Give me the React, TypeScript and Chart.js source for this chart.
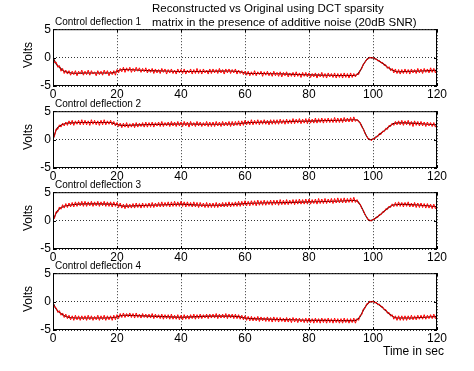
import React, { useEffect, useRef } from "react";
import { Chart, registerables } from "chart.js";
Chart.register(...registerables);

const FONT = '"Liberation Sans Narrow", "Arial Narrow", "Liberation Sans", Arial, sans-serif';

const TITLE_LINES = ["Reconstructed vs Original using DCT sparsity", "matrix in the presence of additive noise (20dB SNR)"];
const PANEL_LABELS = ["Control deflection 1", "Control deflection 2", "Control deflection 3", "Control deflection 4"];
const Y_LABEL = "Volts";
const X_LABEL = "Time in sec";
const X_TICK_STEP = 20;
const X_MIN = 0;
const X_MAX = 120;
const Y_MIN = -5;
const Y_MAX = 5;
const Y_TICK_STEP = 5;

// sampling instants (s) of the noisy (red) records: every 0.5 s
const RED_TIME = Array.from({ length: 241 }, (_, i) => i / 2);

// sampling instants (s) of the original (black) records
const BLACK_TIME = [0, 1, 2, 3, 4, 5, 6, 8, 10, 14, 18, 19, 20, 21, 22, 25, 30, 35, 40, 45, 50, 55, 58, 60, 62, 65, 70, 75, 80, 85, 90, 94, 95, 96, 97, 98, 99, 100, 101, 102, 103, 104, 105, 106, 107, 108, 110, 115, 120];

const BLACK_1 = [0, -1.1, -1.7, -2.2, -2.5, -2.65, -2.75, -2.75, -2.7, -2.7, -2.7, -2.65, -2.45, -2.2, -2.1, -2.15, -2.3, -2.35, -2.45, -2.45, -2.4, -2.35, -2.45, -2.7, -2.8, -2.8, -2.85, -2.95, -3.05, -3.1, -3.15, -3.15, -3.0, -2.3, -1.2, -0.4, 0.0, -0.05, -0.3, -0.65, -1.0, -1.45, -1.85, -2.2, -2.4, -2.5, -2.45, -2.35, -2.25];
const BLACK_2 = [0, 1.7, 2.35, 2.65, 2.85, 2.95, 2.95, 3.0, 3.0, 3.0, 3.0, 2.85, 2.65, 2.55, 2.5, 2.55, 2.65, 2.7, 2.75, 2.72, 2.7, 2.75, 2.8, 2.95, 3.0, 3.05, 3.1, 3.2, 3.25, 3.35, 3.4, 3.5, 3.45, 2.9, 1.8, 0.6, 0.0, 0.1, 0.45, 0.9, 1.35, 1.8, 2.3, 2.7, 2.9, 2.95, 2.95, 2.8, 2.6];
const BLACK_3 = [0, 1.35, 2.05, 2.4, 2.6, 2.7, 2.8, 2.9, 2.95, 2.95, 2.9, 2.85, 2.8, 2.65, 2.55, 2.6, 2.7, 2.8, 2.9, 2.75, 2.7, 2.8, 2.9, 3.0, 3.05, 3.1, 3.15, 3.2, 3.3, 3.35, 3.45, 3.55, 3.45, 2.8, 1.65, 0.6, 0.0, 0.15, 0.5, 0.95, 1.4, 1.9, 2.35, 2.7, 2.8, 2.85, 2.85, 2.7, 2.45];
const BLACK_4 = [-0.2, -1.3, -1.9, -2.3, -2.6, -2.8, -2.85, -2.9, -2.9, -2.9, -2.85, -2.8, -2.7, -2.5, -2.4, -2.45, -2.55, -2.65, -2.75, -2.65, -2.55, -2.55, -2.65, -2.9, -3.0, -3.05, -3.15, -3.2, -3.3, -3.3, -3.35, -3.35, -3.2, -2.6, -1.5, -0.6, -0.05, 0.0, -0.25, -0.6, -1.05, -1.6, -2.1, -2.55, -2.85, -2.9, -2.9, -2.8, -2.6];

const RED_1 = [
  0.1, -0.9, -0.8, -1.7, -1.4, -2.4, -1.9, -2.8, -2.2, -2.9, -2.3, -3.1, -2.4, -3.0, -2.3, -3.2, -2.4, -2.9, -2.2, -3.1,
  -2.4, -3.0, -2.2, -3.1, -2.3, -2.9, -2.5, -3.2, -2.3, -3.0, -2.4, -3.1, -2.2, -2.9, -2.3, -3.2, -2.4, -3.0, -2.3, -3.1,
  -2.1, -2.7, -1.9, -2.5, -1.7, -2.6, -1.8, -2.4, -1.7, -2.6, -1.9, -2.5, -1.7, -2.4, -1.8, -2.6, -1.9, -2.5, -1.8, -2.7,
  -2.0, -2.6, -1.9, -2.8, -2.0, -2.7, -2.1, -2.8, -1.9, -2.6, -2.0, -2.9, -2.1, -2.7, -2.0, -2.8, -2.2, -2.9, -2.0, -2.7,
  -2.1, -2.8, -2.0, -2.9, -2.2, -2.7, -2.0, -2.9, -2.1, -2.8, -1.9, -2.8, -2.1, -2.9, -2.0, -2.7, -2.2, -2.9, -2.0, -2.8,
  -2.0, -2.7, -2.1, -2.8, -1.9, -2.7, -2.1, -2.9, -2.0, -2.7, -2.0, -2.8, -2.1, -2.7, -2.0, -2.9, -2.2, -2.8, -2.3, -3.0,
  -2.4, -3.1, -2.4, -3.2, -2.5, -3.1, -2.3, -3.2, -2.5, -3.0, -2.4, -3.3, -2.5, -3.1, -2.4, -3.2, -2.6, -3.3, -2.4, -3.2,
  -2.6, -3.3, -2.5, -3.4, -2.6, -3.2, -2.5, -3.4, -2.7, -3.3, -2.6, -3.4, -2.5, -3.3, -2.7, -3.5, -2.6, -3.3, -2.6, -3.4,
  -2.7, -3.5, -2.8, -3.4, -2.7, -3.6, -2.8, -3.4, -2.6, -3.5, -2.8, -3.6, -2.7, -3.4, -2.8, -3.5, -2.7, -3.6, -2.8, -3.5,
  -2.8, -3.6, -2.7, -3.5, -2.8, -3.6, -2.7, -3.5, -2.8, -3.4, -2.8, -3.0, -2.2, -1.9, -1.1, -0.9, -0.3, -0.25, 0.1, -0.1,
  0.05, -0.25, -0.2, -0.6, -0.5, -0.95, -0.85, -1.4, -1.25, -1.9, -1.6, -2.3, -1.9, -2.7, -2.0, -2.8, -2.1, -2.9, -2.1, -2.8,
  -2.0, -2.8, -2.1, -2.9, -2.0, -2.7, -2.1, -2.8, -1.9, -2.7, -2.0, -2.8, -1.9, -2.6, -2.0, -2.7, -1.8, -2.6, -1.9, -2.7,
  -2.0];
const RED_2 = [
  0.1, 0.7, 1.9, 1.8, 2.6, 2.2, 2.9, 2.4, 3.1, 2.5, 3.3, 2.6, 3.4, 2.5, 3.3, 2.7, 3.4, 2.6, 3.5, 2.6,
  3.4, 2.6, 3.3, 2.5, 3.5, 2.7, 3.4, 2.6, 3.3, 2.5, 3.4, 2.6, 3.5, 2.6, 3.3, 2.7, 3.4, 2.6, 3.2, 2.4,
  3.0, 2.3, 2.9, 2.1, 2.9, 2.2, 3.0, 2.1, 2.8, 2.2, 2.9, 2.1, 3.0, 2.2, 2.9, 2.3, 3.0, 2.2, 3.1, 2.2,
  3.0, 2.3, 3.1, 2.2, 3.0, 2.4, 3.1, 2.3, 3.2, 2.3, 3.0, 2.4, 3.1, 2.3, 3.2, 2.4, 3.1, 2.3, 3.2, 2.4,
  3.1, 2.3, 3.2, 2.4, 3.1, 2.2, 3.2, 2.4, 3.0, 2.3, 3.2, 2.4, 3.1, 2.3, 3.0, 2.4, 3.2, 2.3, 3.1, 2.3,
  3.1, 2.3, 3.2, 2.4, 3.1, 2.3, 3.2, 2.4, 3.1, 2.4, 3.2, 2.3, 3.2, 2.4, 3.2, 2.5, 3.3, 2.4, 3.3, 2.5,
  3.4, 2.6, 3.3, 2.6, 3.5, 2.6, 3.4, 2.7, 3.5, 2.6, 3.4, 2.7, 3.5, 2.7, 3.4, 2.6, 3.5, 2.7, 3.5, 2.7,
  3.5, 2.7, 3.6, 2.8, 3.5, 2.7, 3.6, 2.8, 3.5, 2.8, 3.7, 2.8, 3.6, 2.9, 3.7, 2.8, 3.6, 2.9, 3.7, 2.8,
  3.7, 2.9, 3.6, 2.9, 3.8, 2.9, 3.7, 3.0, 3.8, 2.9, 3.7, 3.0, 3.8, 3.0, 3.7, 3.0, 3.9, 3.0, 3.8, 3.0,
  3.8, 3.0, 3.9, 3.1, 3.8, 3.1, 3.9, 3.1, 4.0, 3.2, 3.6, 3.1, 3.0, 2.2, 1.9, 1.1, 0.7, 0.1, 0.1, -0.2,
  0.2, 0.1, 0.6, 0.5, 1.1, 0.9, 1.5, 1.4, 2.0, 1.8, 2.5, 2.3, 2.9, 2.5, 3.2, 2.6, 3.3, 2.6, 3.4, 2.5,
  3.3, 2.6, 3.4, 2.5, 3.2, 2.3, 3.3, 2.5, 3.2, 2.4, 3.2, 2.4, 3.1, 2.3, 3.1, 2.4, 3.0, 2.3, 3.0, 2.2,
  2.7];
const RED_3 = [
  0.05, 0.5, 1.6, 1.5, 2.4, 2.0, 2.8, 2.2, 3.0, 2.3, 3.1, 2.4, 3.2, 2.4, 3.3, 2.5, 3.3, 2.6, 3.4, 2.5,
  3.4, 2.5, 3.3, 2.6, 3.4, 2.5, 3.3, 2.6, 3.4, 2.5, 3.3, 2.6, 3.4, 2.5, 3.3, 2.5, 3.3, 2.4, 3.3, 2.5,
  3.2, 2.3, 3.1, 2.2, 2.9, 2.1, 3.0, 2.2, 2.9, 2.2, 3.0, 2.2, 3.1, 2.3, 3.0, 2.2, 3.1, 2.3, 3.0, 2.3,
  3.1, 2.3, 3.2, 2.3, 3.1, 2.4, 3.2, 2.4, 3.3, 2.4, 3.2, 2.5, 3.3, 2.4, 3.3, 2.5, 3.4, 2.5, 3.3, 2.5,
  3.4, 2.5, 3.3, 2.4, 3.3, 2.5, 3.2, 2.4, 3.3, 2.4, 3.2, 2.3, 3.2, 2.4, 3.1, 2.3, 3.2, 2.3, 3.1, 2.3,
  3.1, 2.3, 3.2, 2.3, 3.1, 2.4, 3.2, 2.4, 3.2, 2.4, 3.3, 2.4, 3.2, 2.5, 3.3, 2.5, 3.4, 2.5, 3.4, 2.6,
  3.5, 2.6, 3.4, 2.6, 3.5, 2.7, 3.5, 2.6, 3.6, 2.7, 3.5, 2.7, 3.6, 2.7, 3.5, 2.8, 3.6, 2.7, 3.6, 2.8,
  3.6, 2.7, 3.7, 2.8, 3.6, 2.8, 3.7, 2.8, 3.6, 2.9, 3.7, 2.8, 3.7, 2.9, 3.8, 2.9, 3.7, 2.9, 3.8, 2.9,
  3.8, 2.9, 3.7, 3.0, 3.8, 2.9, 3.9, 3.0, 3.8, 3.0, 3.9, 3.0, 3.8, 3.1, 3.9, 3.0, 3.9, 3.1, 4.0, 3.1,
  3.9, 3.1, 4.0, 3.1, 3.9, 3.2, 4.0, 3.2, 4.1, 3.2, 3.7, 3.0, 2.9, 2.1, 1.8, 1.0, 0.7, 0.1, 0.1, -0.1,
  0.25, 0.2, 0.65, 0.55, 1.1, 1.0, 1.55, 1.5, 2.1, 1.95, 2.55, 2.3, 2.95, 2.45, 3.2, 2.5, 3.3, 2.5, 3.2, 2.4,
  3.2, 2.5, 3.3, 2.4, 3.1, 2.4, 3.2, 2.3, 3.1, 2.3, 3.1, 2.3, 3.0, 2.2, 3.0, 2.2, 2.9, 2.1, 2.9, 2.1,
  2.7];
const RED_4 = [
  -0.1, -1.0, -1.1, -1.9, -1.6, -2.4, -2.0, -2.8, -2.2, -3.0, -2.4, -3.2, -2.5, -3.3, -2.4, -3.2, -2.5, -3.3, -2.5, -3.2,
  -2.5, -3.3, -2.4, -3.2, -2.5, -3.3, -2.6, -3.2, -2.4, -3.3, -2.5, -3.2, -2.4, -3.3, -2.5, -3.2, -2.5, -3.3, -2.4, -3.2,
  -2.3, -3.0, -2.1, -2.8, -2.0, -2.8, -2.1, -2.7, -2.0, -2.8, -2.1, -2.9, -2.0, -2.8, -2.2, -2.9, -2.1, -2.8, -2.2, -2.9,
  -2.2, -2.9, -2.1, -3.0, -2.2, -2.9, -2.3, -3.0, -2.2, -3.1, -2.3, -3.0, -2.3, -3.1, -2.2, -3.1, -2.4, -3.1, -2.3, -3.2,
  -2.4, -3.2, -2.3, -3.1, -2.4, -3.1, -2.3, -3.0, -2.2, -3.1, -2.3, -3.0, -2.2, -3.0, -2.3, -2.9, -2.2, -3.0, -2.2, -2.9,
  -2.2, -2.9, -2.1, -3.0, -2.2, -2.9, -2.2, -2.9, -2.1, -3.0, -2.2, -2.9, -2.2, -3.0, -2.2, -3.0, -2.3, -3.1, -2.4, -3.2,
  -2.5, -3.3, -2.6, -3.4, -2.6, -3.4, -2.7, -3.4, -2.6, -3.5, -2.7, -3.4, -2.8, -3.5, -2.7, -3.5, -2.8, -3.6, -2.7, -3.5,
  -2.8, -3.6, -2.8, -3.5, -2.9, -3.6, -2.8, -3.6, -2.9, -3.7, -2.8, -3.6, -2.9, -3.7, -2.9, -3.6, -3.0, -3.7, -2.9, -3.7,
  -2.9, -3.7, -3.0, -3.8, -2.9, -3.7, -3.0, -3.8, -2.9, -3.7, -3.0, -3.8, -2.9, -3.7, -3.0, -3.8, -2.9, -3.7, -3.0, -3.8,
  -3.0, -3.8, -2.9, -3.7, -3.0, -3.8, -3.0, -3.7, -2.9, -3.8, -3.0, -3.3, -2.4, -2.3, -1.3, -1.2, -0.4, -0.4, 0.1, -0.1,
  0.1, -0.25, -0.1, -0.55, -0.45, -0.95, -0.9, -1.45, -1.4, -2.05, -1.9, -2.55, -2.3, -3.1, -2.5, -3.3, -2.5, -3.3, -2.5, -3.3,
  -2.5, -3.3, -2.5, -3.2, -2.4, -3.2, -2.5, -3.2, -2.4, -3.1, -2.4, -3.1, -2.3, -3.1, -2.4, -3.0, -2.3, -3.0, -2.2, -3.0,
  -2.3];

const PANELS = [
  { label: PANEL_LABELS[0], red: RED_1, black: BLACK_1 },
  { label: PANEL_LABELS[1], red: RED_2, black: BLACK_2 },
  { label: PANEL_LABELS[2], red: RED_3, black: BLACK_3 },
  { label: PANEL_LABELS[3], red: RED_4, black: BLACK_4 },
];

// layout (px)
const W = 474;
const H = 371;
const PLOT_LEFT = 53;
const PLOT_RIGHT = 437;
const PLOT_TOPS = [28, 110, 191, 272];
const PLOT_H = 58;
const PAD_TOP = 8;
const X_AXIS_H = 16;
const TICK_LEN = 3;

// MATLAB-style box with inward tick marks
const boxPlugin = {
  id: "box",
  afterDraw(chart: any) {
    const { ctx, chartArea } = chart;
    const { left, right, top, bottom } = chartArea;
    ctx.save();
    ctx.strokeStyle = "#000";
    ctx.lineWidth = 1;
    ctx.setLineDash([]);
    ctx.strokeRect(left + 0.5, top + 0.5, right - left - 1, bottom - top - 1);
    ctx.beginPath();
    for (const t of chart.scales.x.ticks) {
      const px = Math.round(chart.scales.x.getPixelForValue(t.value)) + 0.5;
      ctx.moveTo(px, bottom);
      ctx.lineTo(px, bottom - TICK_LEN);
      ctx.moveTo(px, top);
      ctx.lineTo(px, top + TICK_LEN);
    }
    for (const t of chart.scales.y.ticks) {
      const py = Math.round(chart.scales.y.getPixelForValue(t.value)) + 0.5;
      ctx.moveTo(left, py);
      ctx.lineTo(left + TICK_LEN, py);
      ctx.moveTo(right, py);
      ctx.lineTo(right - TICK_LEN, py);
    }
    ctx.stroke();
    ctx.restore();
  },
};

function Panel({ idx }: { idx: number }) {
  const ref = useRef<HTMLCanvasElement>(null);
  const p = PANELS[idx];
  useEffect(() => {
    if (!ref.current) return;
    const chart = new Chart(ref.current, {
      type: "line",
      data: {
        datasets: [
          {
            data: p.red.map((v, i) => ({ x: RED_TIME[i], y: v })),
            borderColor: "#ff0000",
            borderWidth: 1,
            pointRadius: 0,
            tension: 0,
          },
          {
            data: p.black.map((v, i) => ({ x: BLACK_TIME[i], y: v })),
            borderColor: "#000000",
            borderWidth: 1.1,
            pointRadius: 0,
            cubicInterpolationMode: "monotone",
          },
        ],
      },
      options: {
        animation: false,
        responsive: false,
        events: [],
        layout: { padding: { left: 0, right: W - PLOT_RIGHT, top: PAD_TOP, bottom: 0 } },
        plugins: { legend: { display: false }, tooltip: { enabled: false }, title: { display: false } },
        scales: {
          x: {
            type: "linear",
            min: X_MIN,
            max: X_MAX,
            ticks: { stepSize: X_TICK_STEP, color: "#000", font: { family: FONT, size: 12 }, padding: 1, maxRotation: 0 },
            grid: { color: "#333", lineWidth: 1, drawTicks: false },
            border: { display: false, dash: [1, 2] },
            afterFit: (s: any) => { s.height = X_AXIS_H; },
          },
          y: {
            type: "linear",
            min: Y_MIN,
            max: Y_MAX,
            ticks: { stepSize: Y_TICK_STEP, color: "#000", font: { family: FONT, size: 12 }, padding: 2 },
            grid: { color: "#333", lineWidth: 1, drawTicks: false },
            border: { display: false, dash: [1, 2] },
            afterFit: (s: any) => { s.width = PLOT_LEFT; },
          },
        },
      },
      plugins: [boxPlugin],
    } as any);
    return () => chart.destroy();
  }, []);
  const top = PLOT_TOPS[idx] - PAD_TOP;
  return (
    <canvas
      ref={ref}
      width={W}
      height={PAD_TOP + PLOT_H + X_AXIS_H}
      style={{ position: "absolute", left: 0, top, width: W, height: PAD_TOP + PLOT_H + X_AXIS_H }}
    />
  );
}

export default function App() {
  const txt: React.CSSProperties = { position: "absolute", fontFamily: FONT, color: "#000", whiteSpace: "nowrap" };
  return (
    <div style={{ position: "fixed", left: 0, top: 0, width: W, height: H, background: "#fff", overflow: "hidden" }}>
      {PANELS.map((_, i) => (
        <Panel key={i} idx={i} />
      ))}
      <div style={{ ...txt, left: 152, top: 1, fontSize: 11.5, lineHeight: "14px" }}>
        {TITLE_LINES[0]}
        <br />
        {TITLE_LINES[1]}
      </div>
      {PANELS.map((p, i) => (
        <div key={"l" + i} style={{ ...txt, left: 55, top: PLOT_TOPS[i] - 12, fontSize: 10, lineHeight: "12px" }}>
          {p.label}
        </div>
      ))}
      {PANELS.map((_, i) => (
        <div
          key={"y" + i}
          style={{ ...txt, left: 28, top: PLOT_TOPS[i] + PLOT_H / 2 - 2, fontSize: 12, lineHeight: "14px", transform: "translate(-50%, -50%) rotate(-90deg)" }}
        >
          {Y_LABEL}
        </div>
      ))}
      <div style={{ ...txt, left: 383, top: 344, fontSize: 12, lineHeight: "14px" }}>{X_LABEL}</div>
    </div>
  );
}
